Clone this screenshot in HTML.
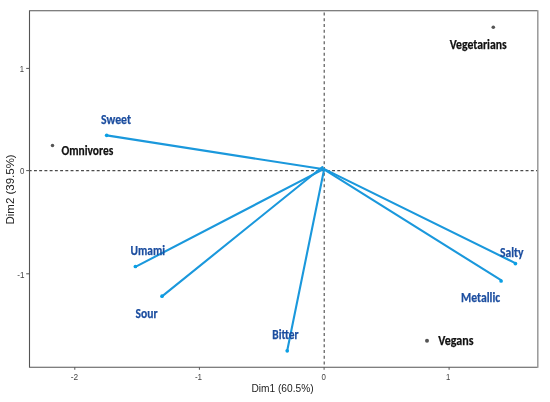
<!DOCTYPE html>
<html>
<head>
<meta charset="utf-8">
<style>
html,body{margin:0;padding:0;background:#fff;width:550px;height:402px;overflow:hidden}
svg{display:block;filter:blur(0.3px)}
.tk{font-family:"Liberation Sans",Arial,sans-serif;font-size:9.2px;fill:#444}
.ttl{font-family:"Liberation Sans",Arial,sans-serif;font-size:10.6px;fill:#222}
.bl{font-family:Carlito,Calibri,"Liberation Sans",sans-serif;font-weight:bold;font-size:14px;font-size-adjust:0.485;fill:#1b4d9f;stroke:#1b4d9f;stroke-width:0.25px}
.bk{font-family:Carlito,Calibri,"Liberation Sans",sans-serif;font-weight:bold;font-size:14px;font-size-adjust:0.485;fill:#111;stroke:#111;stroke-width:0.25px}
</style>
</head>
<body>
<svg width="550" height="402" viewBox="0 0 550 402">
<rect x="0" y="0" width="550" height="402" fill="#fff"/>
<!-- dashed zero lines -->
<line x1="30" y1="170.6" x2="537.7" y2="170.6" stroke="#4a4a4a" stroke-width="1.1" stroke-dasharray="2.9 2.33" stroke-dashoffset="1.25"/>
<line x1="324.2" y1="11.3" x2="324.2" y2="367" stroke="#4a4a4a" stroke-width="1.1" stroke-dasharray="3 2.72" stroke-dashoffset="-1.3"/>
<!-- frame -->
<path d="M537.7 10.8 H29.5 V367.2 H537.7" fill="none" stroke="#555" stroke-width="1.1"/>
<line x1="537.8" y1="10.3" x2="537.8" y2="367.7" stroke="#999" stroke-width="1.5"/>
<!-- ticks -->
<g stroke="#555" stroke-width="1">
<line x1="26.2" y1="68.4" x2="29.5" y2="68.4"/>
<line x1="26.2" y1="170.6" x2="29.5" y2="170.6"/>
<line x1="26.2" y1="273.8" x2="29.5" y2="273.8"/>
<line x1="74.8" y1="367.2" x2="74.8" y2="369.8"/>
<line x1="199.4" y1="367.2" x2="199.4" y2="369.8"/>
<line x1="324.1" y1="367.2" x2="324.1" y2="369.8"/>
<line x1="449.1" y1="367.2" x2="449.1" y2="369.8"/>
</g>
<!-- tick labels -->
<text class="tk" x="24.1" y="72" text-anchor="end" textLength="4.3" lengthAdjust="spacingAndGlyphs">1</text>
<text class="tk" x="24.4" y="174.4" text-anchor="end" textLength="4.4" lengthAdjust="spacingAndGlyphs">0</text>
<text class="tk" x="24.4" y="277.9" text-anchor="end" textLength="7.2" lengthAdjust="spacingAndGlyphs">-1</text>
<text class="tk" x="74.4" y="380.3" text-anchor="middle" textLength="7.4" lengthAdjust="spacingAndGlyphs">-2</text>
<text class="tk" x="198.5" y="380.4" text-anchor="middle" textLength="7.2" lengthAdjust="spacingAndGlyphs">-1</text>
<text class="tk" x="323.8" y="380.3" text-anchor="middle" textLength="4.4" lengthAdjust="spacingAndGlyphs">0</text>
<text class="tk" x="448.2" y="380.3" text-anchor="middle" textLength="4.3" lengthAdjust="spacingAndGlyphs">1</text>
<!-- axis titles -->
<text class="ttl" x="251.4" y="392.3" textLength="62.2" lengthAdjust="spacingAndGlyphs">Dim1 (60.5%)</text>
<text class="ttl" transform="translate(13.9 224.5) rotate(-90)" x="0" y="0" textLength="70.2" lengthAdjust="spacingAndGlyphs">Dim2 (39.5%)</text>
<!-- variable arrows -->
<g stroke="#1a98dc" stroke-width="2.1" stroke-linecap="round">
<line x1="322.4" y1="169" x2="106.7" y2="135.4"/>
<line x1="322.6" y1="169.6" x2="135.4" y2="266.9"/>
<line x1="322.4" y1="167" x2="162" y2="296.4"/>
<line x1="324" y1="170" x2="287.2" y2="350.7"/>
<line x1="322.4" y1="168.4" x2="501" y2="280.2"/>
<line x1="322.4" y1="168.1" x2="515.3" y2="263.1"/>
</g>
<g fill="#0a9fe4">
<circle cx="106.7" cy="135.3" r="1.85"/>
<circle cx="135.4" cy="266.5" r="1.85"/>
<circle cx="162" cy="296.2" r="1.85"/>
<circle cx="287.2" cy="350.8" r="1.85"/>
<circle cx="501.1" cy="281" r="1.85"/>
<circle cx="515.4" cy="263.6" r="1.85"/>
</g>
<!-- individuals -->
<g fill="#555">
<circle cx="493.3" cy="27.2" r="1.8"/>
<circle cx="52.5" cy="145.5" r="1.75"/>
<circle cx="427" cy="340.8" r="2"/>
</g>
<!-- labels -->
<text class="bl" x="101" y="123.6" textLength="30" lengthAdjust="spacingAndGlyphs">Sweet</text>
<text class="bl" x="130.5" y="254.9" textLength="34.5" lengthAdjust="spacingAndGlyphs">Umami</text>
<text class="bl" x="135.5" y="317.8" textLength="22" lengthAdjust="spacingAndGlyphs">Sour</text>
<text class="bl" x="272.3" y="339" textLength="26.3" lengthAdjust="spacingAndGlyphs">Bitter</text>
<text class="bl" x="461" y="302.4" textLength="39.2" lengthAdjust="spacingAndGlyphs">Metallic</text>
<text class="bl" x="500" y="256.8" textLength="23.6" lengthAdjust="spacingAndGlyphs">Salty</text>
<text class="bk" x="61.5" y="155.3" textLength="51.8" lengthAdjust="spacingAndGlyphs">Omnivores</text>
<text class="bk" x="449.7" y="49" textLength="57.1" lengthAdjust="spacingAndGlyphs">Vegetarians</text>
<text class="bk" x="438.3" y="344.9" textLength="35.2" lengthAdjust="spacingAndGlyphs">Vegans</text>
</svg>
</body>
</html>
